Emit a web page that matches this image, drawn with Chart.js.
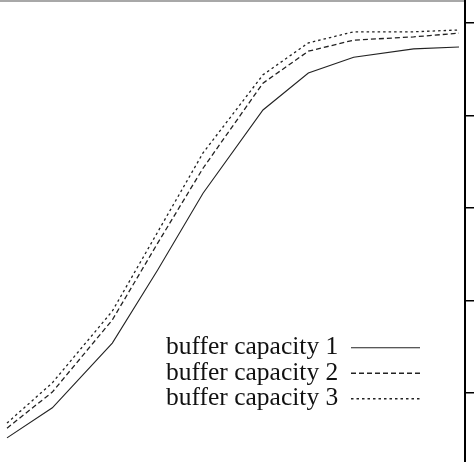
<!DOCTYPE html>
<html>
<head>
<meta charset="utf-8">
<script src="https://cdn.jsdelivr.net/npm/chart.js@4/dist/chart.umd.min.js"></script>
<style>
  html, body { margin: 0; padding: 0; background: #fff; }
  #wrap { width: 474px; height: 462px; }
</style>
</head>
<body>
<div id="wrap"><canvas id="c" width="474" height="462"></canvas></div>
<script>
// x values (log axis)
const xValues = [1, 2, 5, 10, 20, 50, 100, 200, 500, 1000];
const seriesNames = ['buffer capacity 1', 'buffer capacity 2', 'buffer capacity 3'];
const cap1 = [0.103, 0.168, 0.308, 0.466, 0.632, 0.812, 0.892, 0.926, 0.944, 0.948];
const cap2 = [0.124, 0.202, 0.358, 0.524, 0.686, 0.870, 0.939, 0.963, 0.970, 0.978];
const cap3 = [0.135, 0.222, 0.377, 0.548, 0.719, 0.888, 0.957, 0.981, 0.981, 0.985];
const yTicks = [0.2, 0.4, 0.6, 0.8, 1.0];

const toPoints = arr => arr.map((v, i) => ({ x: xValues[i], y: v }));

const legendMover = {
  id: 'legendMover',
  afterLayout(chart) {
    const lg = chart.legend;
    if (!lg) return;
    const right = 420;
    const top = 335;
    lg.left = right - lg.width;
    lg.right = right;
    lg.top = top;
    lg.bottom = top + lg.height;
  }
};

new Chart(document.getElementById('c'), {
  type: 'line',
  data: {
    datasets: [
      { label: seriesNames[0], data: toPoints(cap1), borderColor: '#222', backgroundColor: '#222', borderWidth: 1.1, borderDash: [], pointRadius: 0, tension: 0 },
      { label: seriesNames[1], data: toPoints(cap2), borderColor: '#222', backgroundColor: '#222', borderWidth: 1.3, borderDash: [5, 3], pointRadius: 0, tension: 0 },
      { label: seriesNames[2], data: toPoints(cap3), borderColor: '#222', backgroundColor: '#222', borderWidth: 1.3, borderDash: [2.5, 3], pointRadius: 0, tension: 0 }
    ]
  },
  options: {
    responsive: false,
    animation: false,
    layout: { padding: { top: 1, left: 0, right: 0, bottom: 0 } },
    scales: {
      x: {
        type: 'logarithmic',
        position: 'top',
        bounds: 'data',
        min: 0.8986,
        max: 1096,
        grid: { display: false, drawTicks: false, drawOnChartArea: false },
        ticks: { display: false },
        border: { display: true, color: '#a8a8a8', width: 2 }
      },
      y: {
        type: 'linear',
        position: 'right',
        bounds: 'data',
        min: 0.0508,
        max: 1.0476,
        afterBuildTicks: (scale) => { scale.ticks = yTicks.map(v => ({ value: v })); },
        grid: { drawOnChartArea: false, drawTicks: true, tickLength: 9, color: '#000', lineWidth: 1.5 },
        ticks: { display: false },
        border: { display: true, color: '#000', width: 2 }
      }
    },
    plugins: {
      tooltip: { enabled: false },
      legend: {
        position: 'chartArea',
        align: 'start',
        rtl: true,
        labels: {
          usePointStyle: true,
          pointStyle: 'line',
          pointStyleWidth: 69,
          boxWidth: 69,
          padding: 0,
          color: '#111',
          font: { family: 'Liberation Serif', size: 25.5 },
          generateLabels: (chart) => {
            const items = Chart.defaults.plugins.legend.labels.generateLabels(chart);
            items.forEach(it => {
              const ds = chart.data.datasets[it.datasetIndex];
              it.lineDash = ds.borderDash;
              it.lineWidth = ds.borderWidth;
              it.strokeStyle = ds.borderColor;
            });
            return items;
          }
        }
      }
    }
  },
  plugins: [legendMover]
});
</script>
</body>
</html>
